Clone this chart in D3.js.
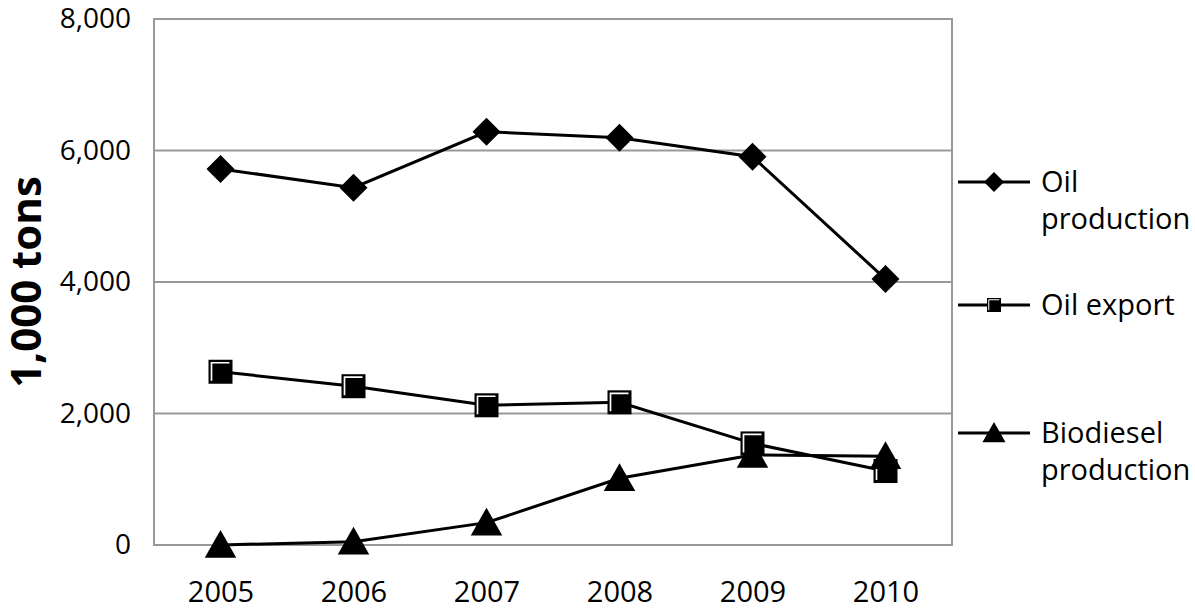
<!DOCTYPE html>
<html><head><meta charset="utf-8">
<script src="https://cdn.jsdelivr.net/npm/d3@7"></script>
<style>body{margin:0;background:#fff}svg{display:block}</style>
</head><body><svg id="c" width="1195" height="611"></svg>
<script>
const years = ["2005","2006","2007","2008","2009","2010"];
const oilProduction = [5720, 5435, 6285, 6195, 5905, 4045];
const oilExport = [2635, 2415, 2125, 2170, 1545, 1125];
const biodiesel = [0, 50, 340, 1015, 1370, 1350];
const yTicks = [0, 2000, 4000, 6000, 8000];
const seriesNames = [["Oil","production"],["Oil export"],["Biodiesel","production"]];

const svg = d3.select("#c");
const font = "'Open Sans', 'Segoe UI', sans-serif";
const L = 154, R = 952, T = 19, B = 545;
const x = d3.scalePoint().domain(years).range([L, R]).padding(0.5);
const y = d3.scaleLinear().domain([0, 8000]).range([B, T]);

// gridlines
svg.append("g").selectAll("line").data(yTicks.filter(d => d > 0 && d < 8000)).join("line")
  .attr("x1", L).attr("x2", R).attr("y1", d => y(d)).attr("y2", d => y(d))
  .attr("stroke", "#999").attr("stroke-width", 2);
// border
svg.append("rect").attr("x", L).attr("y", T).attr("width", R - L).attr("height", B - T)
  .attr("fill", "none").attr("stroke", "#999").attr("stroke-width", 2);

// y axis
const ya = svg.append("g").attr("transform", `translate(${L},0)`)
  .call(d3.axisLeft(y).tickValues(yTicks).tickSize(0).tickPadding(23).tickFormat(d3.format(",")));
ya.select(".domain").remove();
ya.selectAll("text").attr("font-family", font).attr("font-size", 28).attr("fill", "#000");

// x axis
const xa = svg.append("g").attr("transform", `translate(0,${B})`)
  .call(d3.axisBottom(x).tickSize(0).tickPadding(36));
xa.select(".domain").remove();
xa.selectAll("text").attr("font-family", font).attr("font-size", 29).attr("fill", "#000");

// y title
svg.append("text").attr("transform", `translate(41,${282}) rotate(-90)`)
  .attr("text-anchor", "middle").attr("font-family", font).attr("font-weight", "bold")
  .attr("font-size", 42).text("1,000 tons");

const line = d3.line().x((d, i) => x(years[i])).y(d => y(d));

function diamond(g, cx, cy, s) {
  g.append("path").attr("d", `M${cx},${cy - s}L${cx + s},${cy}L${cx},${cy + s}L${cx - s},${cy}Z`).attr("fill", "#000");
}
function square(g, cx, cy, s) {
  g.append("rect").attr("x", cx - s).attr("y", cy - s).attr("width", 2 * s).attr("height", 2 * s).attr("fill", "#000");
  const w = s * 0.25;
  g.append("path").attr("d", `M${cx - s + w},${cy + s - w}L${cx - s + w},${cy - s + w}L${cx + s - w},${cy - s + w}`)
    .attr("fill", "none").attr("stroke", "#fff").attr("stroke-width", Math.max(1, s * 0.14));
}
function triangle(g, cx, cy, s) {
  g.append("path").attr("d", `M${cx},${cy - s}L${cx + s * 1.05},${cy + s * 0.85}L${cx - s * 1.05},${cy + s * 0.85}Z`).attr("fill", "#000");
}
const series = [
  {vals: oilProduction, mark: diamond, size: 14, lsize: 10},
  {vals: oilExport, mark: square, size: 12, lsize: 7},
  {vals: biodiesel, mark: triangle, size: 15, lsize: 11}
];
const legendY = [182, 305, 433];
series.forEach((s, k) => {
  const g = svg.append("g");
  g.append("path").datum(s.vals).attr("d", line).attr("fill", "none").attr("stroke", "#000").attr("stroke-width", 3);
  s.vals.forEach((v, i) => s.mark(g, x(years[i]), y(v), s.size));
  // legend
  const lg = svg.append("g");
  const ly = legendY[k];
  lg.append("line").attr("x1", 958).attr("x2", 1030).attr("y1", ly).attr("y2", ly).attr("stroke", "#000").attr("stroke-width", 3);
  s.mark(lg, 994, ly, s.lsize);
  const t = lg.append("text").attr("font-family", font).attr("font-size", 29).attr("fill", "#000");
  seriesNames[k].forEach((n, j) => {
    t.append("tspan").attr("x", 1041).attr("y", ly + 10 + j * 37).text(n);
  });
});
</script></body></html>
